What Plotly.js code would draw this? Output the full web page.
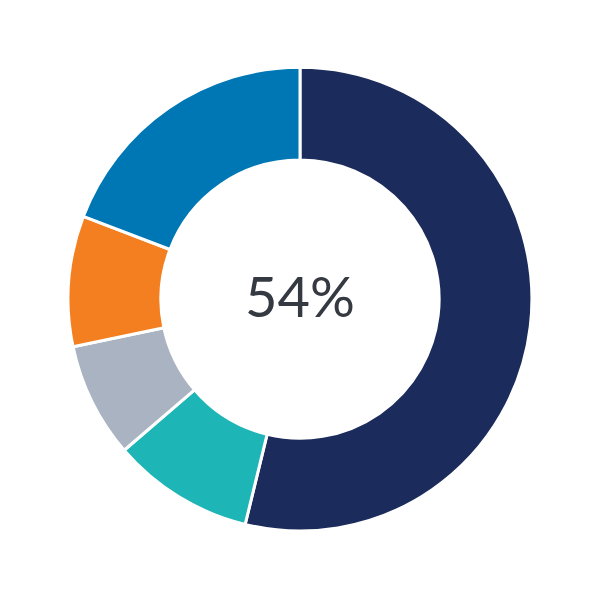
<!DOCTYPE html>
<html>
<head>
<meta charset="utf-8">
<script src="https://cdn.plot.ly/plotly-3.0.1.min.js"></script>
<style>html,body{margin:0;padding:0;background:#fff;}#chart{width:600px;height:600px;}</style>
</head>
<body>
<div id="chart"></div>
<script>
var labels = ['A', 'B', 'C', 'D', 'E'];
var values = [53.8, 9.9, 8.0, 9.1, 19.2];
var colors = ['#1b2b5b', '#1db5b6', '#a9b3c1', '#f47f20', '#0077b5'];
var centerText = '54%';

var trace = {
  type: 'pie',
  labels: labels,
  values: values,
  hole: 0.6,
  sort: false,
  direction: 'clockwise',
  rotation: 0,
  textinfo: 'none',
  hoverinfo: 'label+percent',
  marker: { colors: colors, line: { color: '#ffffff', width: 3 } },
  domain: { x: [0.1133, 0.8867], y: [0.115, 0.888] }
};

var layout = {
  width: 600,
  height: 600,
  margin: { l: 0, r: 0, t: 0, b: 0 },
  showlegend: false,
  paper_bgcolor: '#ffffff',
  annotations: [{
    text: centerText,
    x: 0.5, y: 0.507, xref: 'paper', yref: 'paper',
    showarrow: false,
    font: { family: 'Lato', size: 56, color: '#353a42', weight: 400 }
  }]
};

Plotly.newPlot('chart', [trace], layout, { displayModeBar: false });
</script>
</body>
</html>
